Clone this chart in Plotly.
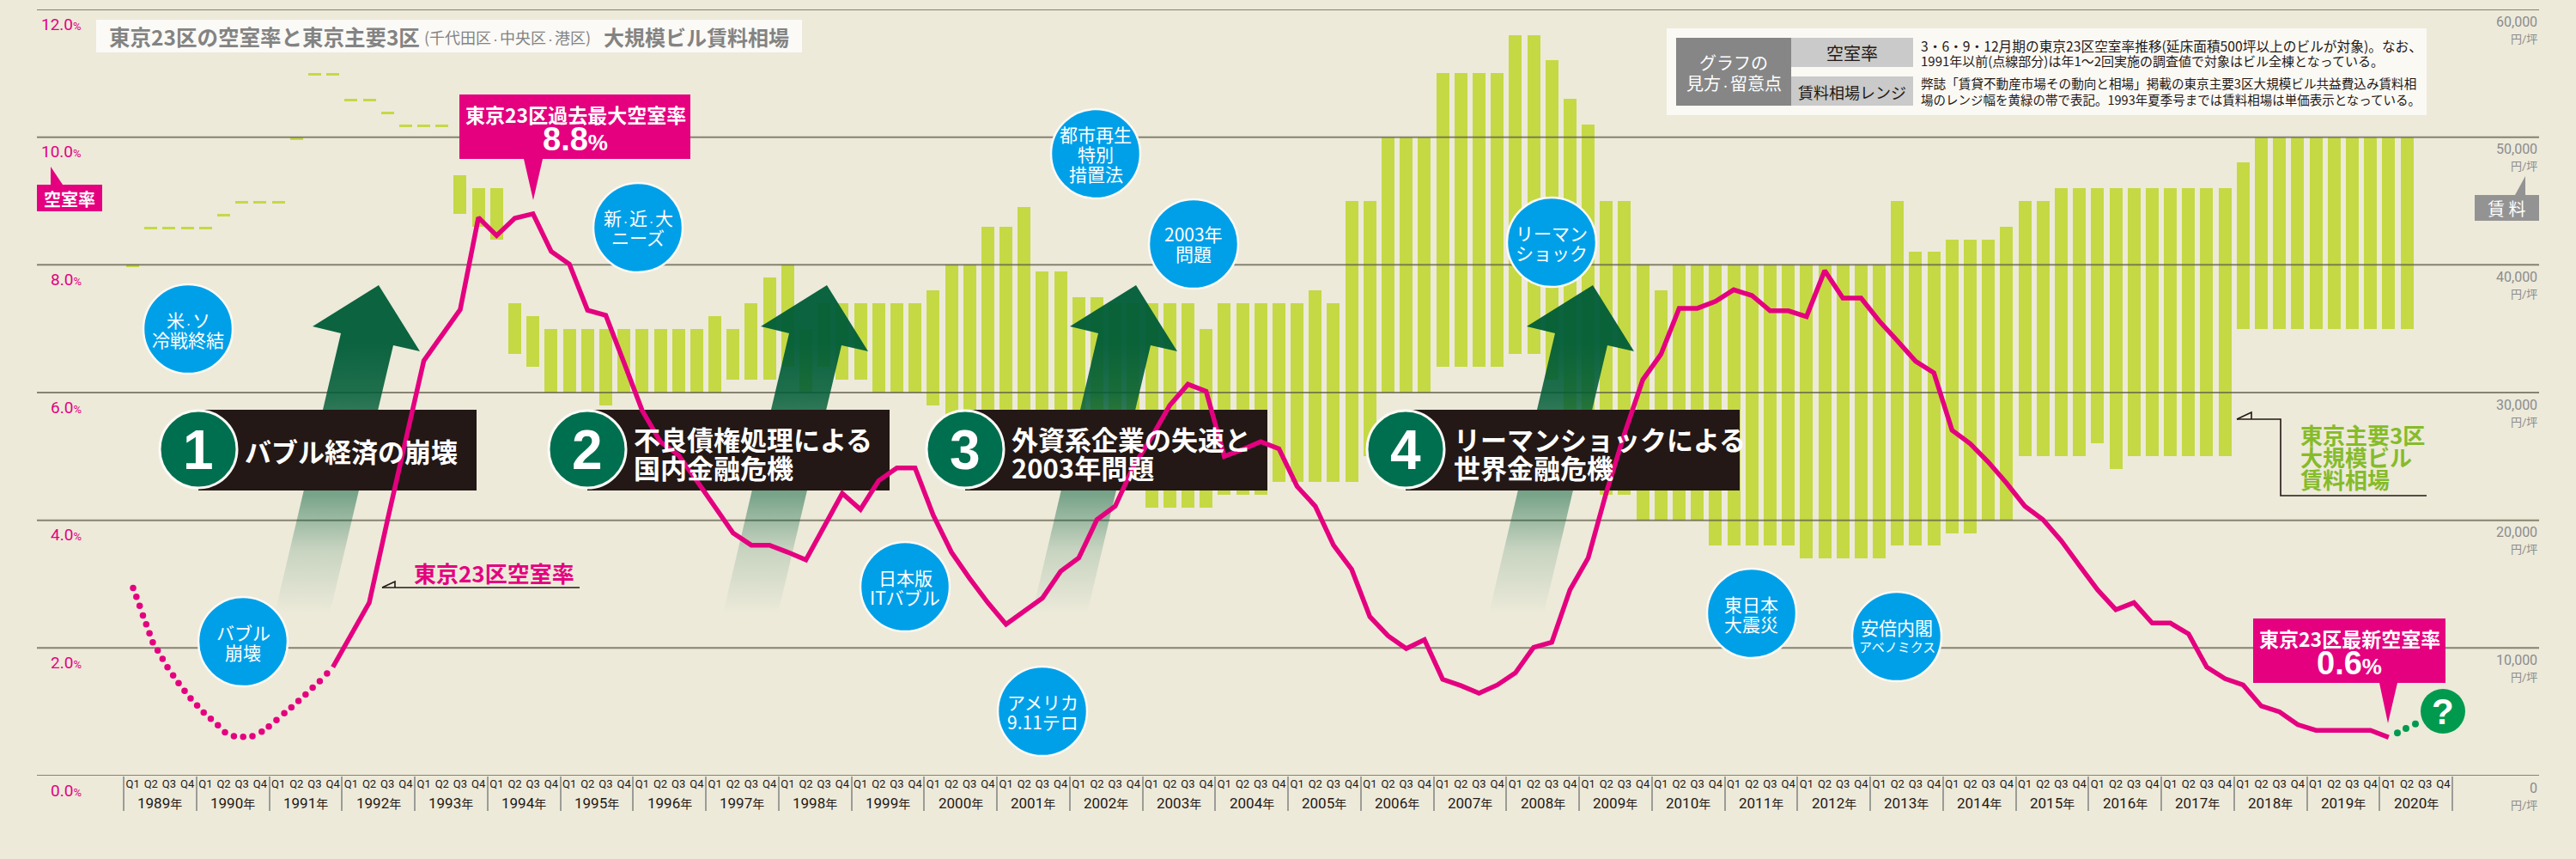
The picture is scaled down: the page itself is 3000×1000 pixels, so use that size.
import plotly.graph_objects as go

# ---- data -------------------------------------------------------------
years = list(range(1989, 2021))
quarter_names = ["Q1", "Q2", "Q3", "Q4"]

# Quarterly rent range (yen per tsubo), 1989 Q1 to 2020 Q2
rent_high = [
    40000, 43000, 43000, 43000, 43000, 44000, 45000, 45000, 45000, 50000,
    55000, 55000, 53000, 53000, 52000, 51000, 51000, 51000, 47000, 46000,
    46000, 37000, 36000, 35000, 35000, 35000, 35000, 35000, 35000, 35000,
    35000, 35000, 36000, 35000, 37000, 39000, 40000, 35000, 37000, 37000,
    37000, 37000, 37000, 37000, 38000, 40000, 40000, 43000, 43000, 44500,
    39500, 39500, 37500, 37500, 37000, 37000, 37000, 37000, 37000, 35000,
    37000, 37000, 37000, 37000, 37000, 38000, 37000, 45000, 45000, 50000,
    50000, 50000, 55000, 55000, 55000, 55000, 58000, 58000, 56000, 53000,
    51000, 45000, 45000, 40000, 38000, 40000, 40000, 40000, 40000, 40000,
    40000, 40000, 40000, 40000, 40000, 40000, 40000, 45000, 41000, 41000,
    42000, 42000, 42000, 43000, 45000, 45000, 46000, 46000, 46000, 46000,
    46000, 46000, 46000, 46000, 46000, 46000, 48000, 50000, 50000, 50000,
    50000, 50000, 50000, 50000, 50000, 50000,
]
rent_low = [
    39800, 42800, 42800, 42800, 42800, 43800, 44800, 44800, 44800, 49800,
    54800, 54800, 52800, 52800, 51800, 50800, 50800, 50800, 44000, 43000,
    42000, 33000, 32000, 30000, 30000, 30000, 29000, 30000, 30000, 30000,
    30000, 30000, 30000, 31000, 31000, 31000, 32000, 30000, 32000, 31000,
    31000, 30000, 30000, 30000, 29000, 28000, 28000, 27000, 27000, 26000,
    27000, 27000, 27000, 27000, 25000, 25000, 21000, 21000, 21000, 21000,
    22000, 22000, 22000, 23000, 23000, 23000, 23000, 23000, 25000, 30000,
    30000, 30000, 32000, 32000, 32000, 32000, 33000, 33000, 31000, 28000,
    28000, 22000, 22000, 20000, 20000, 20000, 20000, 18000, 18000, 18000,
    18000, 18000, 17000, 17000, 17000, 17000, 17000, 18000, 18000, 18000,
    19000, 19000, 20000, 20000, 25000, 25000, 25000, 25000, 26000, 24000,
    25000, 25000, 25000, 25000, 25000, 25000, 35000, 35000, 35000, 35000,
    35000, 35000, 35000, 35000, 35000, 35000,
]

# Vacancy rate (%), quarterly survey from 1991 Q4 to 2020 Q1
vacancy_start = 11
vacancy = [
    1.70, 2.20, 2.71, 4.00, 5.25, 6.50, 6.90, 7.30, 8.74, 8.46,
    8.73, 8.80, 8.21, 8.01, 7.29, 7.21, 6.47, 5.72, 5.23, 5.02,
    4.62, 4.22, 3.80, 3.61, 3.61, 3.50, 3.38, 3.90, 4.42, 4.17,
    4.62, 4.82, 4.82, 4.08, 3.50, 3.09, 2.71, 2.37, 2.57, 2.78,
    3.20, 3.41, 4.01, 4.22, 4.84, 5.30, 5.80, 6.13, 6.02, 5.00,
    5.11, 5.23, 5.12, 4.53, 4.22, 3.61, 3.23, 2.49, 2.19, 1.99,
    2.13, 1.51, 1.41, 1.29, 1.42, 1.61, 2.01, 2.09, 2.91, 3.41,
    4.44, 5.36, 6.20, 6.60, 7.32, 7.32, 7.43, 7.61, 7.52, 7.28,
    7.28, 7.19, 7.91, 7.48, 7.48, 7.12, 6.81, 6.49, 6.31, 5.41,
    5.20, 4.91, 4.58, 4.22, 4.01, 3.68, 3.29, 2.91, 2.60, 2.71,
    2.39, 2.39, 2.22, 1.70, 1.52, 1.42, 1.09, 1.00, 0.80, 0.71,
    0.71, 0.71, 0.71, 0.60,
]

# Earlier, less frequent surveys shown as a dotted stretch
early_q = [
    0.02, 0.20, 0.38, 0.56, 0.74, 0.92, 1.10, 1.37, 1.64, 1.91, 2.22, 2.52,
    2.85, 3.18, 3.54, 3.90, 4.29, 4.68, 5.07, 5.56, 6.07, 6.58, 7.09, 7.48,
    7.90, 8.33, 8.72, 9.11, 9.50, 9.89, 10.28, 10.68,
]
early_vacancy = [
    2.94, 2.80, 2.66, 2.51, 2.37, 2.23, 2.09, 1.96, 1.83, 1.70, 1.57, 1.45,
    1.33, 1.21, 1.10, 0.99, 0.89, 0.79, 0.68, 0.62, 0.61, 0.62, 0.69, 0.77,
    0.87, 0.98, 1.07, 1.17, 1.27, 1.38, 1.48, 1.60,
]

# Outlook dots after the latest figure
outlook_q = [124.48, 124.95, 125.47]
outlook_vacancy = [0.67, 0.74, 0.81]

vacancy_ticks = [0, 2, 4, 6, 8, 10, 12]
vacancy_tick_labels = ["0.0", "2.0", "4.0", "6.0", "8.0", "10.0", "12.0"]
rent_ticks = [0, 10000, 20000, 30000, 40000, 50000, 60000]
rent_tick_labels = ["0", "10,000", "20,000", "30,000", "40,000", "50,000", "60,000"]

events = [
    (219, 383, ["米・ソ", "冷戦終結"]),
    (283, 747, ["バブル", "崩壊"]),
    (743, 265, ["新・近・大", "ニーズ"]),
    (1276, 179, ["都市再生", "特別", "措置法"]),
    (1390, 284, ["2003年", "問題"]),
    (1054, 683, ["日本版", "ITバブル"]),
    (1214, 828, ["アメリカ", "9.11テロ"]),
    (1807, 282, ["リーマン", "ショック"]),
    (2040, 714, ["東日本", "大震災"]),
    (2209, 741, ["安倍内閣", "アベノミクス"]),
]

phases = [
    ("1", 231, 555, 0, ["バブル経済の崩壊"], 284),
    ("2", 684, 1036, 522, ["不良債権処理による", "国内金融危機"], 737),
    ("3", 1124, 1476, 882, ["外資系企業の失速と", "2003年問題"], 1177),
    ("4", 1637, 2026, 1414, ["リーマンショックによる", "世界金融危機"], 1692),
]

# ---- page geometry ----------------------------------------------------
W, H = 3000, 1000
PLOT_L, PLOT_R, PLOT_T, PLOT_B = 43, 2957, 11, 903
YEAR0_PX, Q_PX = 144, 21.1875

PINK = "#e4007f"
BG = "#edeada"
LIME = "#c5d945"
GRID = "rgba(96,92,72,0.72)"
JP = "Noto Sans CJK JP"
NUM = "Roboto, Noto Sans CJK JP"


def qx(px):
    return (px - YEAR0_PX) / Q_PX - 0.5


def pv(py):
    return (PLOT_B - py) / (PLOT_B - PLOT_T) * 12


def xp(px):
    return (px - PLOT_L) / (PLOT_R - PLOT_L)


def yp(py):
    return 1 - (py - PLOT_T) / (PLOT_B - PLOT_T)


def poly(points):
    parts = [f"{xp(x):.5f},{yp(y):.5f}" for x, y in points]
    return "M" + " L".join(parts) + " Z"


def tight(text, dot_size):
    # Middle dots are set small so they take little room between the characters
    return text.replace("・", f'<span style="font-size:{dot_size}px">・</span>')


annotations = []
shapes = []


def label(px, py, text, size, color, bold=False, anchor="center", family=JP):
    shown = f"<b>{text}</b>" if bold else text
    annotations.append(dict(
        x=xp(px), y=yp(py), xref="paper", yref="paper", text=shown,
        showarrow=False, xanchor=anchor, yanchor="middle", borderpad=0,
        font=dict(family=family, size=size, color=color),
    ))


def rect(x0, y0, x1, y1, color):
    shapes.append(dict(
        type="rect", xref="paper", yref="paper", layer="above",
        x0=xp(x0), x1=xp(x1), y0=yp(y0), y1=yp(y1),
        fillcolor=color, line=dict(width=0),
    ))


def tri(points, color):
    shapes.append(dict(
        type="path", xref="paper", yref="paper", layer="above",
        path=poly(points), fillcolor=color, line=dict(width=0),
    ))


def stroke(points, color="#231815", width=1.6, closed=False):
    path = poly(points)
    if not closed:
        path = path[:-2]
    shapes.append(dict(
        type="path", xref="paper", yref="paper", layer="above",
        path=path, line=dict(color=color, width=width),
    ))


def disc(cx, cy, d, color, edge=2.5):
    r = d / 2
    shapes.append(dict(
        type="circle", xref="paper", yref="paper", layer="above",
        x0=xp(cx - r), x1=xp(cx + r), y0=yp(cy - r), y1=yp(cy + r),
        fillcolor=color, line=dict(color="#fbfaf5", width=edge),
    ))


# ---- traces -----------------------------------------------------------
quarters = list(range(len(years) * 4))
traces = []

# Rent range bars
traces.append(go.Bar(
    x=quarters[:len(rent_high)],
    y=[h - l for h, l in zip(rent_high, rent_low)],
    base=rent_low, width=0.71, marker=dict(color=LIME, line=dict(width=0)),
    yaxis="y", hoverinfo="skip", showlegend=False,
))

# Gridlines sit above the bars so they read through them
grid_x, grid_y = [], []
for t in vacancy_ticks:
    grid_x += [qx(PLOT_L), qx(PLOT_R), None]
    grid_y += [t, t, None]
traces.append(go.Scatter(
    x=grid_x, y=grid_y, yaxis="y2", mode="lines", cliponaxis=False,
    line=dict(color=GRID, width=2), hoverinfo="skip", showlegend=False,
))

# Fading upward arrows behind each phase banner
arrow_shape = [(441, 332), (489, 409), (458, 402), (376, 748),
               (312, 748), (397, 388), (364, 380), (441, 332)]
for _, _, _, dx, _, _ in phases:
    traces.append(go.Scatter(
        x=[qx(x + dx) for x, _ in arrow_shape],
        y=[pv(y) for _, y in arrow_shape],
        yaxis="y2", mode="none", fill="toself", hoverinfo="skip", showlegend=False,
        fillgradient=dict(
            type="vertical", start=pv(715), stop=pv(400),
            colorscale=[
                [0, "rgba(0,92,55,0)"], [0.24, "rgba(0,92,55,0.16)"],
                [0.44, "rgba(0,92,55,0.49)"], [0.82, "rgba(0,92,55,0.87)"],
                [1, "rgba(0,92,55,0.95)"],
            ],
        ),
    ))

# Phase banners
for _, x0, x1, _, _, _ in phases:
    traces.append(go.Scatter(
        x=[qx(x0), qx(x1), qx(x1), qx(x0), qx(x0)],
        y=[pv(477), pv(477), pv(571), pv(571), pv(477)],
        yaxis="y2", mode="none", fill="toself", fillcolor="#231815",
        hoverinfo="skip", showlegend=False,
    ))

# Vacancy rate
traces.append(go.Scatter(
    x=early_q, y=early_vacancy, yaxis="y2", mode="markers",
    marker=dict(color=PINK, size=7.5), hoverinfo="skip", showlegend=False,
))
traces.append(go.Scatter(
    x=quarters[vacancy_start:vacancy_start + len(vacancy)], y=vacancy,
    yaxis="y2", mode="lines", line=dict(color=PINK, width=5.5),
    hoverinfo="skip", showlegend=False,
))
traces.append(go.Scatter(
    x=outlook_q, y=outlook_vacancy, yaxis="y2", mode="markers",
    marker=dict(color="#009a4e", size=8), hoverinfo="skip", showlegend=False,
))

# ---- axis captions ----------------------------------------------------
for t, s in zip(vacancy_ticks, vacancy_tick_labels):
    annotations.append(dict(
        x=xp(96), y=t, xref="paper", yref="y2", yshift=-17, showarrow=False,
        xanchor="right", yanchor="middle", borderpad=0,
        text=f'{s}<span style="font-size:13px">%</span>',
        font=dict(family=NUM, size=19, color=PINK),
    ))

for t, s in zip(rent_ticks, rent_tick_labels):
    annotations.append(dict(
        x=xp(2956), y=t, xref="paper", yref="y", yshift=-14, showarrow=False,
        xanchor="right", yanchor="middle", borderpad=0, text=s,
        font=dict(family=NUM, size=16, color="#8c8c8c"),
    ))
    annotations.append(dict(
        x=xp(2956), y=t, xref="paper", yref="y", yshift=-34, showarrow=False,
        xanchor="right", yanchor="middle", borderpad=0, text="円/坪",
        font=dict(family=NUM, size=13, color="#8c8c8c"),
    ))

for k, year in enumerate(years):
    annotations.append(dict(
        x=4 * k + 1.5, y=yp(935), xref="x", yref="paper", showarrow=False,
        xanchor="center", yanchor="middle", borderpad=0,
        text=f"{year}<span style='font-size:14px'>年</span>",
        font=dict(family=NUM, size=17, color="#231815"),
    ))

# ---- title and key ----------------------------------------------------
rect(112, 23, 934, 61, "#fbfaf6")
label(126, 42, "東京23区の空室率と東京主要3区", 24.5, "#838383", bold=True, anchor="left")
label(493, 43, tight("(千代田区・中央区・港区)", 10), 18, "#838383", anchor="left")
label(702, 42, "大規模ビル賃料相場", 24, "#838383", bold=True, anchor="left")

rect(1941, 33, 2826, 134, "#fbf9f4")
rect(1952, 44, 2086, 123, "#868686")
rect(2086, 44, 2228, 78, "#c9cac9")
rect(2086, 89, 2228, 123, "#c9cac9")
label(2019, 73, "グラフの", 20, "#ffffff")
label(2019, 97, tight("見方・留意点", 11), 20, "#ffffff")
label(2157, 61, "空室率", 20, "#231815")
label(2157, 107, "賃料相場レンジ", 18, "#231815")
key_lines = [
    (53, 15.7, "3・6・9・12月期の東京23区空室率推移(延床面積500坪以上のビルが対象)。なお、"),
    (71, 15, "1991年以前(点線部分)は年1～2回実施の調査値で対象はビル全棟となっている。"),
    (97, 14.6, "弊誌「賃貸不動産市場その動向と相場」掲載の東京主要3区大規模ビル共益費込み賃料相"),
    (116, 14.5, "場のレンジ幅を黄緑の帯で表記。1993年夏季号までは賃料相場は単価表示となっている。"),
]
for py, size, text in key_lines:
    label(2236, py, text, size, "#231815", anchor="left")

# ---- side tags --------------------------------------------------------
rect(43, 215, 119, 246, PINK)
tri([(59, 194), (59, 215), (73, 215)], PINK)
label(81, 231, "空室率", 20, "#ffffff", bold=True)

rect(2882, 227, 2957, 257, "#939393")
tri([(2929, 227), (2941, 205), (2941, 227)], "#939393")
label(2919, 242, "賃 料", 20, "#ffffff")

# ---- callouts for the peak and the latest figure ----------------------
rect(535, 110, 804, 185, PINK)
tri([(610, 185), (632, 185), (621, 233)], PINK)
label(670, 133, "東京23区過去最大空室率", 23, "#ffffff", bold=True)
label(670, 162, f'{vacancy[22 - vacancy_start]:.1f}<span style="font-size:26px">%</span>',
      38, "#ffffff", bold=True, family="Liberation Sans")

rect(2624, 720, 2848, 795, PINK)
tri([(2771, 795), (2792, 795), (2781, 842)], PINK)
label(2736, 743, "東京23区最新空室率", 23, "#ffffff", bold=True)
label(2736, 772, f'{vacancy[-1]:.1f}<span style="font-size:26px">%</span>',
      38, "#ffffff", bold=True, family="Liberation Sans")

# ---- series labels ----------------------------------------------------
label(481, 666, "東京23区空室率", 26, PINK, bold=True, anchor="left")
stroke([(445, 684), (675, 684)])
stroke([(445, 684), (460, 677), (460, 684)])

label(2678, 505, "東京主要3区", 26, "#86bb2a", bold=True, anchor="left")
label(2678, 531, "大規模ビル", 26, "#86bb2a", bold=True, anchor="left")
label(2678, 557, "賃料相場", 26, "#86bb2a", bold=True, anchor="left")
stroke([(2605, 488), (2656, 488), (2656, 577), (2826, 577)])
stroke([(2605, 488), (2622, 480), (2622, 488)])

# ---- event bubbles ----------------------------------------------------
for cx, cy, lines in events:
    disc(cx, cy, 104, "#00a0e9")
    top = cy - (len(lines) - 1) * 11.5
    for n, text in enumerate(lines):
        size = 15 if text == "アベノミクス" else 21
        label(cx, top + n * 23, tight(text, 9), size, "#ffffff")

# ---- phase banner text ------------------------------------------------
for number, x0, _, _, lines, text_x in phases:
    disc(x0, 523, 90, "#006f4f", edge=3)
    label(x0, 524, number, 64, "#ffffff", bold=True, family="Liberation Sans")
    rows = [524] if len(lines) == 1 else [510, 543]
    for py, text in zip(rows, lines):
        label(text_x, py, text, 31, "#ffffff", bold=True, anchor="left")

disc(2845, 828, 52, "#009a4e", edge=0)
label(2845, 828, "?", 42, "#ffffff", bold=True, family="Liberation Sans")

# ---- figure -----------------------------------------------------------
fig = go.Figure(traces)
fig.update_layout(
    width=W, height=H, autosize=False,
    margin=dict(l=PLOT_L, r=W - PLOT_R, t=PLOT_T, b=H - PLOT_B, pad=0),
    paper_bgcolor=BG, plot_bgcolor=BG, showlegend=False,
    bargap=0, barmode="overlay",
    annotations=annotations, shapes=shapes,
    xaxis=dict(
        range=[qx(PLOT_L), qx(PLOT_R)], showgrid=False, zeroline=False,
        tickmode="array", tickvals=quarters,
        ticktext=[quarter_names[q % 4] for q in quarters],
        ticks="", ticklen=0, ticklabelposition="outside",
        tickfont=dict(family="Roboto", size=13, color="#231815"),
        tickangle=0,
        minor=dict(
            tickmode="array", tickvals=[4 * k - 0.5 for k in range(len(years) + 1)],
            ticks="outside", ticklen=40, tickwidth=2, tickcolor="#9c9c97",
            showgrid=False,
        ),
    ),
    yaxis=dict(range=[0, 60000], tickvals=rent_ticks, showgrid=False, zeroline=False,
               showticklabels=False, ticks=""),
    yaxis2=dict(range=[0, 12], tickvals=vacancy_ticks, overlaying="y", side="left",
                showgrid=False, zeroline=False, showticklabels=False, ticks=""),
)
fig.write_html("out.html")
